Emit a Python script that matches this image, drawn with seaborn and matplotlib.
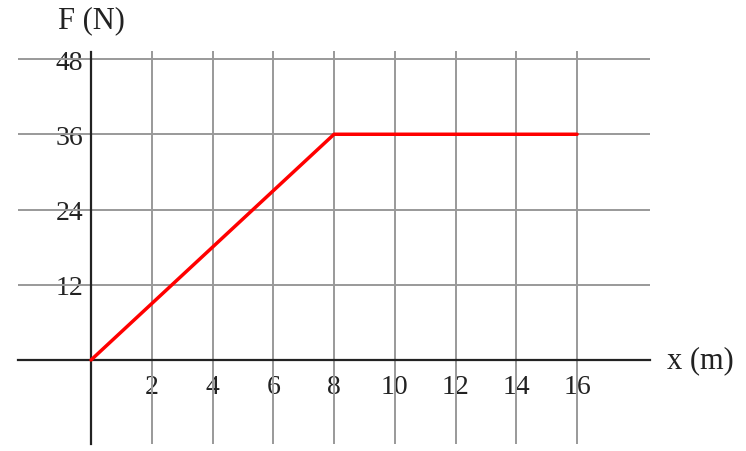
import matplotlib
matplotlib.use("Agg")
import matplotlib.pyplot as plt
import seaborn as sns
import pandas as pd

# data
x_m = [0, 8, 16]
force_N = [0, 36, 36]
x_ticks = [2, 4, 6, 8, 10, 12, 14, 16]
y_ticks = [12, 24, 36, 48]
x_label = "x (m)"
y_label = "F (N)"

sns.set_style("white")
plt.rcParams["font.family"] = ["Liberation Serif", "DejaVu Serif"]

df = pd.DataFrame({"x": x_m, "F": force_N})

fig = plt.figure(figsize=(7.46, 4.52), dpi=100)
ax = fig.add_axes([0, 0, 1, 1])
ax.set_xlim(-2.996, 21.56)
ax.set_ylim(-14.51, 57.57)

grid_x_min, grid_x_max = -2.4, 18.4
grid_y_min, grid_y_max = -13.4, 49.3
grid_col = "#999999"
ax.hlines(y_ticks, grid_x_min, grid_x_max, colors=grid_col, lw=1.4, zorder=1)
ax.vlines(x_ticks, grid_y_min, grid_y_max, colors=grid_col, lw=1.4, zorder=1)

sns.lineplot(data=df, x="x", y="F", color="#ff0000", lw=2.5, ax=ax, zorder=3)

for s in ["top", "right"]:
    ax.spines[s].set_visible(False)
ax.spines["left"].set_position(("data", 0))
ax.spines["bottom"].set_position(("data", 0))
ax.spines["left"].set_bounds(grid_y_min, 49.1)
ax.spines["bottom"].set_bounds(grid_x_min, grid_x_max)
for s in ["left", "bottom"]:
    ax.spines[s].set_color("#222222")
    ax.spines[s].set_linewidth(1.6)
    ax.spines[s].set_zorder(2)

ax.set_xticks(x_ticks)
ax.set_yticks(y_ticks)
ax.set_xticklabels([str(v) for v in x_ticks])
ax.set_yticklabels([str(v) for v in y_ticks])
ax.tick_params(axis="x", direction="in", length=4.3, width=1.4, colors="#222222",
               labelsize=20, pad=10)
ax.tick_params(axis="y", direction="in", length=4.5, width=1.4, colors="#222222",
               labelsize=20, pad=5.8)
ax.set_xlabel("")
ax.set_ylabel("")

ax.text(18.96, 0, x_label, ha="left", va="center", fontsize=22, color="#222222")
ax.text(0, 54.3, y_label, ha="center", va="center", fontsize=22, color="#222222")

fig.savefig("out.png", dpi=100)
